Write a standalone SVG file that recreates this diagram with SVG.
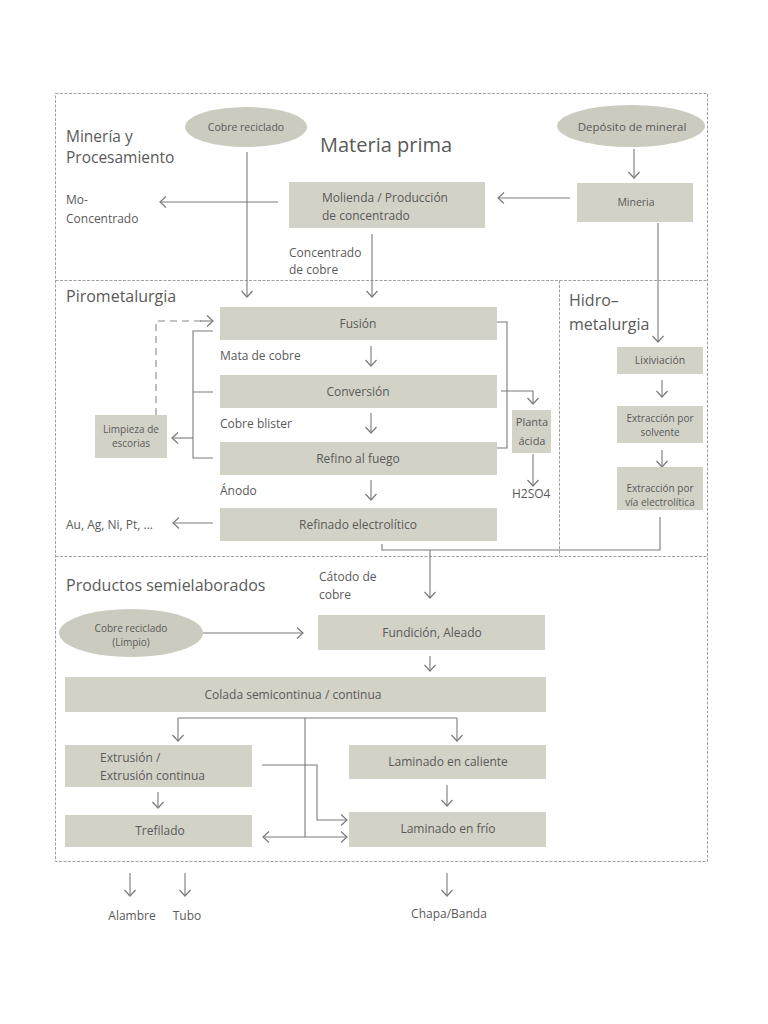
<svg xmlns="http://www.w3.org/2000/svg" width="768" height="1024" viewBox="0 0 768 1024">
<defs>
<marker id="ah" viewBox="0 0 12 12" refX="11" refY="6" markerWidth="12" markerHeight="12" markerUnits="userSpaceOnUse" orient="auto">
<path d="M5,0.5 L11,6 L5,11.5" fill="none" stroke="#7a7a7a" stroke-width="1.2"/>
</marker>
</defs>
<style>
.box{fill:#d2d2c6}
.ell{fill:#cbcbbf}
.t{font-family:"Open Sans","Noto Sans",sans-serif;fill:#5a5a5a}
.h{font-size:16px}
.s{font-size:12px}
.xs{font-size:10.5px}
.c{text-anchor:middle}
.ln{fill:none;stroke:#7a7a7a;stroke-width:1.1}
.ar{fill:none;stroke:#7a7a7a;stroke-width:1.1;marker-end:url(#ah)}
.dash{fill:none;stroke:#a0a0a0;stroke-width:1;stroke-dasharray:3,1.5}
</style>
<rect width="768" height="1024" fill="#ffffff"/>
<g id="frame">
<rect class="dash" x="55.5" y="93.5" width="652" height="768"/>
<line class="dash" x1="55.5" y1="280.5" x2="707.5" y2="280.5"/>
<line class="dash" x1="55.5" y1="556.5" x2="707.5" y2="556.5"/>
<line class="dash" x1="559.5" y1="280.5" x2="559.5" y2="556.5"/>
</g>
<g id="titles">
<text class="t" x="66" y="142" style="font-size:15.5px">Minería y</text>
<text class="t" x="66" y="163" style="font-size:15.5px">Procesamiento</text>
<text class="t" x="320" y="152" style="font-size:20px">Materia prima</text>
<text class="t h" x="66" y="302">Pirometalurgia</text>
<text class="t h" x="569" y="306">Hidro–</text>
<text class="t h" x="569" y="330">metalurgia</text>
<text class="t h" x="66" y="591">Productos semielaborados</text>
</g>
<g id="connectors">
<path class="ar" d="M634,149 V178"/>
<path class="ar" d="M570,198 H498"/>
<path class="ar" d="M278,202 H160"/>
<path class="ar" d="M247,152 V297"/>
<path class="ar" d="M372,234 V297"/>
<path class="ar" d="M658,223 V342"/>
<path class="ar" d="M371,346 V366"/>
<path class="ar" d="M371,413 V433"/>
<path class="ar" d="M371,480 V500"/>
<path class="ln" d="M213,331 H193 V458 H213 M193,392 H213"/>
<path class="ar" d="M193,438 H172"/>
<path class="dash" style="stroke:#888;stroke-dasharray:7,5;stroke-width:1.1" d="M156,415 V321 H206"/>
<path class="ar" d="M200,321 H213"/>
<path class="ar" d="M213,523 H173"/>
<path class="ln" d="M497,322 H507 V448 H497"/>
<path class="ar" d="M501,391 H533 V404"/>
<path class="ar" d="M533,454 V486"/>
<path class="ar" d="M662,380 V397"/>
<path class="ar" d="M662,450 V467"/>
<path class="ln" d="M660,517 V550 H382 V544"/>
<path class="ar" d="M430,550 V598"/>
<path class="ar" d="M203,633 H303"/>
<path class="ar" d="M430,656 V671"/>
<path class="ln" d="M178,718 H457"/>
<path class="ar" d="M178,718 V741"/>
<path class="ar" d="M457,718 V741"/>
<path class="ln" d="M305,718 V837"/>
<path class="ar" d="M305,837 H263"/>
<path class="ar" d="M305,837 H347"/>
<path class="ar" d="M262,765 H317 V820 H347"/>
<path class="ar" d="M158,792 V808"/>
<path class="ar" d="M447,785 V806"/>
<path class="ar" d="M130,873 V896"/>
<path class="ar" d="M185,873 V896"/>
<path class="ar" d="M447,873 V896"/>
</g>
<g id="cobre-reciclado">
<ellipse class="ell" cx="246" cy="127" rx="61" ry="20"/>
<text class="t xs c" x="246" y="131">Cobre reciclado</text>
</g>
<g id="deposito">
<ellipse class="ell" cx="631" cy="126" rx="74" ry="21"/>
<text class="t c" x="632" y="131" style="font-size:11.5px">Depósito de mineral</text>
</g>
<g id="mineria">
<rect class="box" x="577" y="183" width="116" height="39"/>
<text class="t xs c" x="636" y="206">Mineria</text>
</g>
<g id="molienda">
<rect class="box" x="289" y="182" width="196" height="46"/>
<text class="t s" x="322" y="202">Molienda / Producción</text>
<text class="t s" x="322" y="220">de concentrado</text>
</g>
<g id="mo-concentrado">
<text class="t s" x="66" y="204">Mo-</text>
<text class="t s" x="66" y="223">Concentrado</text>
</g>
<g id="concentrado-label">
<text class="t s" x="289" y="257">Concentrado</text>
<text class="t s" x="289" y="274">de cobre</text>
</g>
<g id="fusion">
<rect class="box" x="220" y="307" width="277" height="33"/>
<text class="t s c" x="358" y="328">Fusión</text>
</g>
<text class="t s" x="220" y="360">Mata de cobre</text>
<g id="conversion">
<rect class="box" x="220" y="375" width="277" height="33"/>
<text class="t s c" x="358" y="396">Conversión</text>
</g>
<text class="t s" x="220" y="428">Cobre blister</text>
<g id="refino">
<rect class="box" x="220" y="442" width="277" height="33"/>
<text class="t s c" x="358" y="463">Refino al fuego</text>
</g>
<text class="t s" x="220" y="495">Ánodo</text>
<g id="refinado">
<rect class="box" x="220" y="508" width="277" height="33"/>
<text class="t s c" x="358" y="529">Refinado electrolítico</text>
</g>
<text class="t s" x="66" y="529">Au, Ag, Ni, Pt, ...</text>
<g id="limpieza">
<rect class="box" x="95" y="415" width="72" height="43"/>
<text class="t c" x="131" y="433" style="font-size:10px">Limpieza de</text>
<text class="t c" x="131" y="447" style="font-size:10px">escorias</text>
</g>
<g id="planta">
<rect class="box" x="512" y="410" width="39" height="43"/>
<text class="t c" x="532" y="426" style="font-size:11px">Planta</text>
<text class="t c" x="532" y="445" style="font-size:11px">ácida</text>
</g>
<text class="t s" x="512" y="498">H2SO4</text>
<g id="lixiviacion">
<rect class="box" x="617" y="347" width="86" height="27"/>
<text class="t xs c" x="660" y="364">Lixiviación</text>
</g>
<g id="extraccion-solvente">
<rect class="box" x="617" y="406" width="86" height="37"/>
<text class="t c" x="660" y="422" style="font-size:10px">Extracción por</text>
<text class="t c" x="660" y="436" style="font-size:10px">solvente</text>
</g>
<g id="extraccion-electrolitica">
<rect class="box" x="617" y="467" width="86" height="43"/>
<text class="t c" x="660" y="492" style="font-size:10px">Extracción por</text>
<text class="t c" x="660" y="506" style="font-size:10px">vía electrolítica</text>
</g>
<g id="catodo-label">
<text class="t s" x="319" y="581">Cátodo de</text>
<text class="t s" x="319" y="599">cobre</text>
</g>
<g id="cobre-reciclado-limpio">
<ellipse class="ell" cx="131" cy="633" rx="72" ry="24"/>
<text class="t c" x="131" y="632" style="font-size:10px">Cobre reciclado</text>
<text class="t c" x="131" y="646" style="font-size:10px">(Limpio)</text>
</g>
<g id="fundicion">
<rect class="box" x="318" y="615" width="227" height="35"/>
<text class="t s c" x="432" y="637">Fundición, Aleado</text>
</g>
<g id="colada">
<rect class="box" x="65" y="677" width="481" height="35"/>
<text class="t s c" x="293" y="699">Colada semicontinua / continua</text>
</g>
<g id="extrusion">
<rect class="box" x="65" y="745" width="187" height="42"/>
<text class="t s" x="100" y="762">Extrusión /</text>
<text class="t s" x="100" y="780">Extrusión continua</text>
</g>
<g id="trefilado">
<rect class="box" x="65" y="815" width="187" height="32"/>
<text class="t s c" x="160" y="835">Trefilado</text>
</g>
<g id="laminado-caliente">
<rect class="box" x="349" y="745" width="197" height="34"/>
<text class="t s c" x="448" y="766">Laminado en caliente</text>
</g>
<g id="laminado-frio">
<rect class="box" x="349" y="812" width="197" height="35"/>
<text class="t s c" x="448" y="833">Laminado en frío</text>
</g>
<g id="outputs">
<text class="t s c" x="132" y="920">Alambre</text>
<text class="t s c" x="187" y="920">Tubo</text>
<text class="t s c" x="449" y="918">Chapa/Banda</text>
</g>
</svg>
